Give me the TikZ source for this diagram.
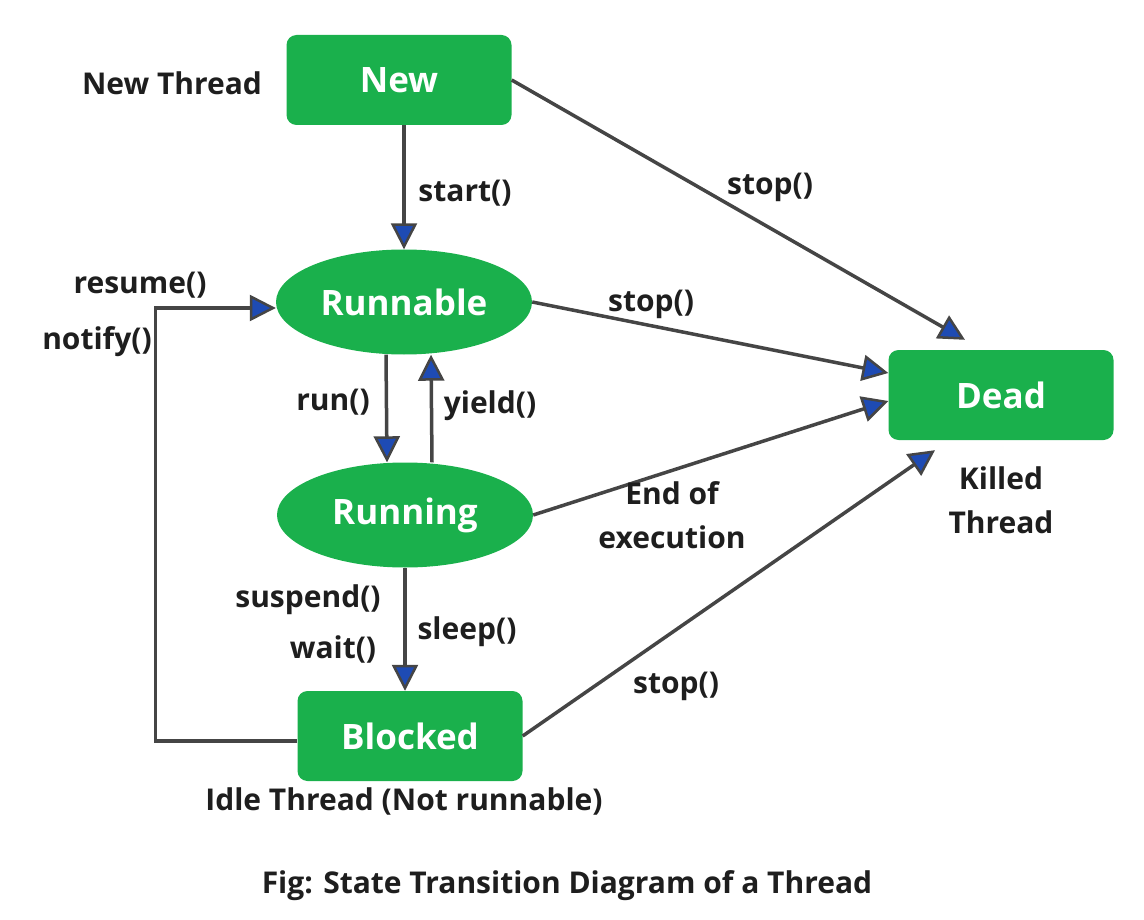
\documentclass[tikz,border=0pt]{standalone}
\usepackage{fontspec}
\setmainfont{Open Sans}
\usetikzlibrary{arrows.meta,shapes.geometric}
\definecolor{stategreen}{HTML}{1AB04C}
\definecolor{tipblue}{HTML}{1E4BB4}
\definecolor{linegray}{HTML}{454545}
\definecolor{textdark}{HTML}{1E1E1E}
\tikzset{
  statebox/.style={fill=stategreen, rounded corners=10pt, minimum width=225pt, minimum height=90pt,
    text=white, font=\fontsize{35}{40}\selectfont\bfseries},
  stateoval/.style={ellipse, fill=stategreen, inner sep=0pt, minimum width=256pt, minimum height=105pt,
    text=white, font=\fontsize{35}{40}\selectfont\bfseries},
  trans/.style={draw=linegray, line width=3.5pt,
    -{Triangle[length=26pt,width=26pt,fill=tipblue,line width=2.5pt]}},
  lbl/.style={text=textdark, font=\fontsize{30}{44}\selectfont\bfseries, align=center}
}
\begin{document}
\begin{tikzpicture}[x=1pt,y=-1pt]
  \useasboundingbox (0,0) rectangle (1144,920);
  % states
  \node[statebox] (new) at (399,80) {New};
  \node[stateoval] (runnable) at (404,302) {Runnable};
  \node[stateoval] (running) at (405,515) {Running};
  \node[statebox] (blocked) at (410,736) {Blocked};
  \node[statebox] (dead) at (1001,395) {Dead};
  % transitions
  \draw[trans] (runnable.north |- new.south) -- (runnable.north);
  \draw[trans] (new.east) -- ([xshift=-36pt,yshift=10pt]dead.north);
  \draw[trans] (runnable.east) -- ([yshift=22pt]dead.west);
  \draw[trans] (running.east) -- ([yshift=-6pt]dead.west);
  \draw[trans] (blocked.east) -- ([xshift=-66pt,yshift=-10pt]dead.south);
  \draw[trans] ([xshift=-18pt]runnable.south) -- ([xshift=-18pt]running.north);
  \draw[trans] ([xshift=27pt]running.north) -- ([xshift=27pt]runnable.south);
  \draw[trans] (running.south) -- (running.south |- blocked.north);
  \draw[trans] ([yshift=-5pt]blocked.west) -- ++(-142,0) |- ([yshift=-6pt]runnable.west);
  % labels
  \node[lbl] (newlbl) at (172,83) {New Thread};
  \node[lbl] (startlbl) at (465,193) {start()};
  \node[lbl] (stopa) at (770,187) {stop()};
  \node[lbl] (stopb) at (651,304) {stop()};
  \node[lbl] (resumelbl) at (140,285) {resume()};
  \node[lbl] (notifylbl) at (97,342) {notify()};
  \node[lbl] (runlbl) at (333,402) {run()};
  \node[lbl] (yieldlbl) at (490,406) {yield()};
  \node[lbl] (endlbl) at (672,515) {End of\\execution};
  \node[lbl] (killedlbl) at (1001,500) {Killed\\Thread};
  \node[lbl] (suspendlbl) at (308,600) {suspend()};
  \node[lbl] (waitlbl) at (333,649) {wait()};
  \node[lbl] (sleeplbl) at (467,632) {sleep()};
  \node[lbl] (stopc) at (676,686) {stop()};
  \node[lbl] (idlelbl) at (404,801) {Idle Thread (Not runnable)};
  \node[lbl] (caption) at (567,886) {Fig: State Transition Diagram of a Thread};
\end{tikzpicture}
\end{document}
